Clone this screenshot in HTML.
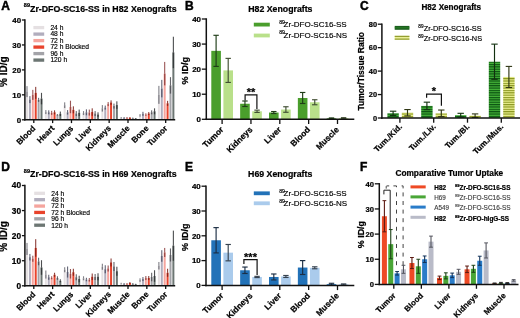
<!DOCTYPE html>
<html><head><meta charset="utf-8"><title>Figure</title>
<style>
html,body{margin:0;padding:0;background:#fff;}
body{width:520px;height:318px;overflow:hidden;}
svg{display:block;font-family:"Liberation Sans", Arial, sans-serif;filter:blur(0.35px);}
</style></head><body>
<svg width="520" height="318" viewBox="0 0 520 318">
<rect width="520" height="318" fill="#fff"/>
<text x="1.3" y="9.8" font-size="12" font-weight="bold" text-anchor="start" fill="#000" stroke="#000" stroke-width="0.45">A</text>
<text x="23.8" y="11.6" font-size="8.78" font-weight="bold" text-anchor="start" fill="#000" stroke="#000" stroke-width="0.22"><tspan font-size="5.62" dy="-4.13">89</tspan><tspan dy="4.13">Zr</tspan>-DFO-SC16-SS in H82 Xenografts</text>
<rect x="26.00" y="91.61" width="2.00" height="28.19" fill="#e5e0e2"/>
<rect x="26.45" y="86.12" width="1.10" height="5.49" fill="#6a6a72" opacity="0.85"/>
<rect x="26.35" y="91.61" width="1.30" height="5.49" fill="#6a6a72" opacity="0.85"/>
<rect x="28.90" y="99.59" width="2.00" height="20.21" fill="#b1adbd"/>
<rect x="29.35" y="96.10" width="1.10" height="3.49" fill="#4a4c60" opacity="0.85"/>
<rect x="29.25" y="99.59" width="1.30" height="3.49" fill="#4a4c60" opacity="0.85"/>
<rect x="31.80" y="94.85" width="2.00" height="24.95" fill="#f5a59e"/>
<rect x="32.25" y="89.86" width="1.10" height="4.99" fill="#8a3a38" opacity="0.85"/>
<rect x="32.15" y="94.85" width="1.30" height="4.99" fill="#8a3a38" opacity="0.85"/>
<rect x="34.70" y="92.85" width="2.00" height="26.95" fill="#e8432c"/>
<rect x="35.15" y="86.87" width="1.10" height="5.99" fill="#7a1f18" opacity="0.85"/>
<rect x="35.05" y="92.85" width="1.30" height="5.99" fill="#7a1f18" opacity="0.85"/>
<rect x="37.60" y="99.84" width="2.00" height="19.96" fill="#a3a3a8"/>
<rect x="38.05" y="97.84" width="1.10" height="2.00" fill="#4c4c52" opacity="0.85"/>
<rect x="37.95" y="99.84" width="1.30" height="2.00" fill="#4c4c52" opacity="0.85"/>
<rect x="40.50" y="98.59" width="2.00" height="21.21" fill="#6c7673"/>
<rect x="40.95" y="92.85" width="1.10" height="5.74" fill="#2e3032" opacity="0.85"/>
<rect x="40.85" y="98.59" width="1.30" height="5.74" fill="#2e3032" opacity="0.85"/>
<rect x="44.84" y="112.07" width="2.00" height="7.73" fill="#e5e0e2"/>
<rect x="45.29" y="110.07" width="1.10" height="2.00" fill="#6a6a72" opacity="0.85"/>
<rect x="45.19" y="112.07" width="1.30" height="2.00" fill="#6a6a72" opacity="0.85"/>
<rect x="47.74" y="112.31" width="2.00" height="7.48" fill="#b1adbd"/>
<rect x="48.19" y="110.32" width="1.10" height="2.00" fill="#4a4c60" opacity="0.85"/>
<rect x="48.09" y="112.31" width="1.30" height="2.00" fill="#4a4c60" opacity="0.85"/>
<rect x="50.64" y="112.81" width="2.00" height="6.99" fill="#f5a59e"/>
<rect x="51.09" y="110.82" width="1.10" height="2.00" fill="#8a3a38" opacity="0.85"/>
<rect x="50.99" y="112.81" width="1.30" height="2.00" fill="#8a3a38" opacity="0.85"/>
<rect x="53.54" y="112.31" width="2.00" height="7.48" fill="#e8432c"/>
<rect x="53.99" y="110.32" width="1.10" height="2.00" fill="#7a1f18" opacity="0.85"/>
<rect x="53.89" y="112.31" width="1.30" height="2.00" fill="#7a1f18" opacity="0.85"/>
<rect x="56.44" y="114.81" width="2.00" height="4.99" fill="#a3a3a8"/>
<rect x="56.89" y="114.06" width="1.10" height="0.75" fill="#4c4c52" opacity="0.85"/>
<rect x="56.79" y="114.81" width="1.30" height="0.75" fill="#4c4c52" opacity="0.85"/>
<rect x="59.34" y="113.81" width="2.00" height="5.99" fill="#6c7673"/>
<rect x="59.79" y="111.57" width="1.10" height="2.25" fill="#2e3032" opacity="0.85"/>
<rect x="59.69" y="113.81" width="1.30" height="2.25" fill="#2e3032" opacity="0.85"/>
<rect x="63.68" y="105.20" width="2.00" height="14.60" fill="#e5e0e2"/>
<rect x="64.13" y="102.33" width="1.10" height="2.87" fill="#6a6a72" opacity="0.85"/>
<rect x="64.03" y="105.20" width="1.30" height="2.87" fill="#6a6a72" opacity="0.85"/>
<rect x="66.58" y="112.31" width="2.00" height="7.48" fill="#b1adbd"/>
<rect x="67.03" y="110.07" width="1.10" height="2.25" fill="#4a4c60" opacity="0.85"/>
<rect x="66.93" y="112.31" width="1.30" height="2.25" fill="#4a4c60" opacity="0.85"/>
<rect x="69.48" y="106.95" width="2.00" height="12.85" fill="#f5a59e"/>
<rect x="69.93" y="100.71" width="1.10" height="6.24" fill="#8a3a38" opacity="0.85"/>
<rect x="69.83" y="106.95" width="1.30" height="6.24" fill="#8a3a38" opacity="0.85"/>
<rect x="72.38" y="109.82" width="2.00" height="9.98" fill="#e8432c"/>
<rect x="72.83" y="106.33" width="1.10" height="3.49" fill="#7a1f18" opacity="0.85"/>
<rect x="72.73" y="109.82" width="1.30" height="3.49" fill="#7a1f18" opacity="0.85"/>
<rect x="75.28" y="113.56" width="2.00" height="6.24" fill="#a3a3a8"/>
<rect x="75.73" y="111.07" width="1.10" height="2.50" fill="#4c4c52" opacity="0.85"/>
<rect x="75.63" y="113.56" width="1.30" height="2.49" fill="#4c4c52" opacity="0.85"/>
<rect x="78.18" y="112.81" width="2.00" height="6.99" fill="#6c7673"/>
<rect x="78.63" y="109.57" width="1.10" height="3.24" fill="#2e3032" opacity="0.85"/>
<rect x="78.53" y="112.81" width="1.30" height="3.24" fill="#2e3032" opacity="0.85"/>
<rect x="82.52" y="113.06" width="2.00" height="6.74" fill="#e5e0e2"/>
<rect x="82.97" y="111.07" width="1.10" height="2.00" fill="#6a6a72" opacity="0.85"/>
<rect x="82.87" y="113.06" width="1.30" height="2.00" fill="#6a6a72" opacity="0.85"/>
<rect x="85.42" y="112.31" width="2.00" height="7.48" fill="#b1adbd"/>
<rect x="85.87" y="109.32" width="1.10" height="2.99" fill="#4a4c60" opacity="0.85"/>
<rect x="85.77" y="112.31" width="1.30" height="2.99" fill="#4a4c60" opacity="0.85"/>
<rect x="88.32" y="112.56" width="2.00" height="7.24" fill="#f5a59e"/>
<rect x="88.77" y="109.57" width="1.10" height="2.99" fill="#8a3a38" opacity="0.85"/>
<rect x="88.67" y="112.56" width="1.30" height="2.99" fill="#8a3a38" opacity="0.85"/>
<rect x="91.22" y="112.07" width="2.00" height="7.73" fill="#e8432c"/>
<rect x="91.67" y="108.32" width="1.10" height="3.74" fill="#7a1f18" opacity="0.85"/>
<rect x="91.57" y="112.07" width="1.30" height="3.74" fill="#7a1f18" opacity="0.85"/>
<rect x="94.12" y="113.56" width="2.00" height="6.24" fill="#a3a3a8"/>
<rect x="94.57" y="111.07" width="1.10" height="2.50" fill="#4c4c52" opacity="0.85"/>
<rect x="94.47" y="113.56" width="1.30" height="2.49" fill="#4c4c52" opacity="0.85"/>
<rect x="97.02" y="114.56" width="2.00" height="5.24" fill="#6c7673"/>
<rect x="97.47" y="112.31" width="1.10" height="2.25" fill="#2e3032" opacity="0.85"/>
<rect x="97.37" y="114.56" width="1.30" height="2.25" fill="#2e3032" opacity="0.85"/>
<rect x="101.36" y="108.32" width="2.00" height="11.48" fill="#e5e0e2"/>
<rect x="101.81" y="105.08" width="1.10" height="3.24" fill="#6a6a72" opacity="0.85"/>
<rect x="101.71" y="108.32" width="1.30" height="3.24" fill="#6a6a72" opacity="0.85"/>
<rect x="104.26" y="107.57" width="2.00" height="12.23" fill="#b1adbd"/>
<rect x="104.71" y="105.58" width="1.10" height="2.00" fill="#4a4c60" opacity="0.85"/>
<rect x="104.61" y="107.57" width="1.30" height="2.00" fill="#4a4c60" opacity="0.85"/>
<rect x="107.16" y="104.08" width="2.00" height="15.72" fill="#f5a59e"/>
<rect x="107.61" y="102.09" width="1.10" height="2.00" fill="#8a3a38" opacity="0.85"/>
<rect x="107.51" y="104.08" width="1.30" height="2.00" fill="#8a3a38" opacity="0.85"/>
<rect x="110.06" y="102.58" width="2.00" height="17.22" fill="#e8432c"/>
<rect x="110.51" y="100.34" width="1.10" height="2.25" fill="#7a1f18" opacity="0.85"/>
<rect x="110.41" y="102.58" width="1.30" height="2.25" fill="#7a1f18" opacity="0.85"/>
<rect x="112.96" y="106.08" width="2.00" height="13.72" fill="#a3a3a8"/>
<rect x="113.41" y="103.58" width="1.10" height="2.50" fill="#4c4c52" opacity="0.85"/>
<rect x="113.31" y="106.08" width="1.30" height="2.49" fill="#4c4c52" opacity="0.85"/>
<rect x="115.86" y="105.08" width="2.00" height="14.72" fill="#6c7673"/>
<rect x="116.31" y="101.34" width="1.10" height="3.74" fill="#2e3032" opacity="0.85"/>
<rect x="116.21" y="105.08" width="1.30" height="3.74" fill="#2e3032" opacity="0.85"/>
<rect x="120.20" y="117.80" width="2.00" height="2.00" fill="#e5e0e2"/>
<rect x="120.65" y="117.06" width="1.10" height="0.75" fill="#6a6a72" opacity="0.85"/>
<rect x="120.55" y="117.80" width="1.30" height="0.75" fill="#6a6a72" opacity="0.85"/>
<rect x="123.10" y="117.80" width="2.00" height="2.00" fill="#b1adbd"/>
<rect x="123.55" y="117.06" width="1.10" height="0.75" fill="#4a4c60" opacity="0.85"/>
<rect x="123.45" y="117.80" width="1.30" height="0.75" fill="#4a4c60" opacity="0.85"/>
<rect x="126.00" y="117.80" width="2.00" height="2.00" fill="#f5a59e"/>
<rect x="126.45" y="117.06" width="1.10" height="0.75" fill="#8a3a38" opacity="0.85"/>
<rect x="126.35" y="117.80" width="1.30" height="0.75" fill="#8a3a38" opacity="0.85"/>
<rect x="128.90" y="117.80" width="2.00" height="2.00" fill="#e8432c"/>
<rect x="129.35" y="117.06" width="1.10" height="0.75" fill="#7a1f18" opacity="0.85"/>
<rect x="129.25" y="117.80" width="1.30" height="0.75" fill="#7a1f18" opacity="0.85"/>
<rect x="131.80" y="118.05" width="2.00" height="1.75" fill="#a3a3a8"/>
<rect x="132.25" y="117.55" width="1.10" height="0.50" fill="#4c4c52" opacity="0.85"/>
<rect x="132.15" y="118.05" width="1.30" height="0.50" fill="#4c4c52" opacity="0.85"/>
<rect x="134.70" y="118.55" width="2.00" height="1.25" fill="#6c7673"/>
<rect x="135.15" y="118.05" width="1.10" height="0.50" fill="#2e3032" opacity="0.85"/>
<rect x="135.05" y="118.55" width="1.30" height="0.50" fill="#2e3032" opacity="0.85"/>
<rect x="139.04" y="115.31" width="2.00" height="4.49" fill="#e5e0e2"/>
<rect x="139.49" y="114.06" width="1.10" height="1.25" fill="#6a6a72" opacity="0.85"/>
<rect x="139.39" y="115.31" width="1.30" height="1.25" fill="#6a6a72" opacity="0.85"/>
<rect x="141.94" y="113.81" width="2.00" height="5.99" fill="#b1adbd"/>
<rect x="142.39" y="111.82" width="1.10" height="2.00" fill="#4a4c60" opacity="0.85"/>
<rect x="142.29" y="113.81" width="1.30" height="2.00" fill="#4a4c60" opacity="0.85"/>
<rect x="144.84" y="114.56" width="2.00" height="5.24" fill="#f5a59e"/>
<rect x="145.29" y="113.31" width="1.10" height="1.25" fill="#8a3a38" opacity="0.85"/>
<rect x="145.19" y="114.56" width="1.30" height="1.25" fill="#8a3a38" opacity="0.85"/>
<rect x="147.74" y="113.56" width="2.00" height="6.24" fill="#e8432c"/>
<rect x="148.19" y="112.07" width="1.10" height="1.50" fill="#7a1f18" opacity="0.85"/>
<rect x="148.09" y="113.56" width="1.30" height="1.50" fill="#7a1f18" opacity="0.85"/>
<rect x="150.64" y="112.31" width="2.00" height="7.48" fill="#a3a3a8"/>
<rect x="151.09" y="110.32" width="1.10" height="2.00" fill="#4c4c52" opacity="0.85"/>
<rect x="150.99" y="112.31" width="1.30" height="2.00" fill="#4c4c52" opacity="0.85"/>
<rect x="153.54" y="111.32" width="2.00" height="8.48" fill="#6c7673"/>
<rect x="153.99" y="108.32" width="1.10" height="2.99" fill="#2e3032" opacity="0.85"/>
<rect x="153.89" y="111.32" width="1.30" height="2.99" fill="#2e3032" opacity="0.85"/>
<rect x="157.88" y="94.85" width="2.00" height="24.95" fill="#e5e0e2"/>
<rect x="158.33" y="85.87" width="1.10" height="8.98" fill="#6a6a72" opacity="0.85"/>
<rect x="158.23" y="94.85" width="1.30" height="8.98" fill="#6a6a72" opacity="0.85"/>
<rect x="160.78" y="88.61" width="2.00" height="31.19" fill="#b1adbd"/>
<rect x="161.23" y="79.88" width="1.10" height="8.73" fill="#4a4c60" opacity="0.85"/>
<rect x="161.13" y="88.61" width="1.30" height="8.73" fill="#4a4c60" opacity="0.85"/>
<rect x="163.68" y="73.64" width="2.00" height="46.16" fill="#f5a59e"/>
<rect x="164.13" y="61.92" width="1.10" height="11.73" fill="#8a3a38" opacity="0.85"/>
<rect x="164.03" y="73.64" width="1.30" height="11.73" fill="#8a3a38" opacity="0.85"/>
<rect x="166.58" y="103.33" width="2.00" height="16.47" fill="#e8432c"/>
<rect x="167.03" y="100.84" width="1.10" height="2.50" fill="#7a1f18" opacity="0.85"/>
<rect x="166.93" y="103.33" width="1.30" height="2.50" fill="#7a1f18" opacity="0.85"/>
<rect x="169.48" y="85.37" width="2.00" height="34.43" fill="#a3a3a8"/>
<rect x="169.93" y="77.14" width="1.10" height="8.23" fill="#4c4c52" opacity="0.85"/>
<rect x="169.83" y="85.37" width="1.30" height="8.23" fill="#4c4c52" opacity="0.85"/>
<rect x="172.38" y="52.43" width="2.00" height="67.37" fill="#6c7673"/>
<rect x="172.83" y="36.72" width="1.10" height="15.72" fill="#2e3032" opacity="0.85"/>
<rect x="172.73" y="52.43" width="1.30" height="15.72" fill="#2e3032" opacity="0.85"/>
<line x1="24.90" y1="19.30" x2="24.90" y2="120.55" stroke="#111" stroke-width="1.5"/>
<line x1="21.90" y1="119.80" x2="24.90" y2="119.80" stroke="#111" stroke-width="1.3"/>
<text x="21.1" y="122.64" font-size="7.9" font-weight="bold" text-anchor="end" fill="#000" stroke="#000" stroke-width="0.22">0</text>
<line x1="21.90" y1="94.85" x2="24.90" y2="94.85" stroke="#111" stroke-width="1.3"/>
<text x="21.1" y="97.69" font-size="7.9" font-weight="bold" text-anchor="end" fill="#000" stroke="#000" stroke-width="0.22">10</text>
<line x1="21.90" y1="69.90" x2="24.90" y2="69.90" stroke="#111" stroke-width="1.3"/>
<text x="21.1" y="72.74" font-size="7.9" font-weight="bold" text-anchor="end" fill="#000" stroke="#000" stroke-width="0.22">20</text>
<line x1="21.90" y1="44.95" x2="24.90" y2="44.95" stroke="#111" stroke-width="1.3"/>
<text x="21.1" y="47.79" font-size="7.9" font-weight="bold" text-anchor="end" fill="#000" stroke="#000" stroke-width="0.22">30</text>
<line x1="21.90" y1="20.00" x2="24.90" y2="20.00" stroke="#111" stroke-width="1.3"/>
<text x="21.1" y="22.84" font-size="7.9" font-weight="bold" text-anchor="end" fill="#000" stroke="#000" stroke-width="0.22">40</text>
<text x="7.2" y="71.7" font-size="10.0" font-weight="bold" text-anchor="middle" fill="#000" stroke="#000" stroke-width="0.22" transform="rotate(-90 7.2 71.7)">% ID/g</text>
<line x1="24.15" y1="119.80" x2="175.20" y2="119.80" stroke="#111" stroke-width="1.5"/>
<line x1="33.80" y1="119.80" x2="33.80" y2="123.10" stroke="#111" stroke-width="1.3"/>
<text x="36.1" y="128.9" font-size="8.2" font-weight="bold" text-anchor="end" fill="#000" stroke="#000" stroke-width="0.22" transform="rotate(-45 36.1 128.9)">Blood</text>
<line x1="52.64" y1="119.80" x2="52.64" y2="123.10" stroke="#111" stroke-width="1.3"/>
<text x="54.94" y="128.9" font-size="8.2" font-weight="bold" text-anchor="end" fill="#000" stroke="#000" stroke-width="0.22" transform="rotate(-45 54.94 128.9)">Heart</text>
<line x1="71.48" y1="119.80" x2="71.48" y2="123.10" stroke="#111" stroke-width="1.3"/>
<text x="73.78" y="128.9" font-size="8.2" font-weight="bold" text-anchor="end" fill="#000" stroke="#000" stroke-width="0.22" transform="rotate(-45 73.78 128.9)">Lungs</text>
<line x1="90.32" y1="119.80" x2="90.32" y2="123.10" stroke="#111" stroke-width="1.3"/>
<text x="92.62" y="128.9" font-size="8.2" font-weight="bold" text-anchor="end" fill="#000" stroke="#000" stroke-width="0.22" transform="rotate(-45 92.62 128.9)">Liver</text>
<line x1="109.16" y1="119.80" x2="109.16" y2="123.10" stroke="#111" stroke-width="1.3"/>
<text x="111.46" y="128.9" font-size="8.2" font-weight="bold" text-anchor="end" fill="#000" stroke="#000" stroke-width="0.22" transform="rotate(-45 111.46 128.9)">Kidneys</text>
<line x1="128.00" y1="119.80" x2="128.00" y2="123.10" stroke="#111" stroke-width="1.3"/>
<text x="130.3" y="128.9" font-size="8.2" font-weight="bold" text-anchor="end" fill="#000" stroke="#000" stroke-width="0.22" transform="rotate(-45 130.3 128.9)">Muscle</text>
<line x1="146.84" y1="119.80" x2="146.84" y2="123.10" stroke="#111" stroke-width="1.3"/>
<text x="149.14" y="128.9" font-size="8.2" font-weight="bold" text-anchor="end" fill="#000" stroke="#000" stroke-width="0.22" transform="rotate(-45 149.14 128.9)">Bone</text>
<line x1="165.68" y1="119.80" x2="165.68" y2="123.10" stroke="#111" stroke-width="1.3"/>
<text x="167.98" y="128.9" font-size="8.2" font-weight="bold" text-anchor="end" fill="#000" stroke="#000" stroke-width="0.22" transform="rotate(-45 167.98 128.9)">Tumor</text>
<rect x="33.40" y="25.95" width="10.80" height="3.30" fill="#e5e0e2"/>
<text x="50.4" y="29.950000000000003" font-size="6.7" font-weight="normal" text-anchor="start" fill="#000" stroke="#000" stroke-width="0.16">24 h</text>
<rect x="33.40" y="32.45" width="10.80" height="3.30" fill="#b1adbd"/>
<text x="50.4" y="36.45" font-size="6.7" font-weight="normal" text-anchor="start" fill="#000" stroke="#000" stroke-width="0.16">48 h</text>
<rect x="33.40" y="38.95" width="10.80" height="3.30" fill="#f5a59e"/>
<text x="50.4" y="42.95" font-size="6.7" font-weight="normal" text-anchor="start" fill="#000" stroke="#000" stroke-width="0.16">72 h</text>
<rect x="33.40" y="45.45" width="10.80" height="3.30" fill="#e8432c"/>
<text x="50.4" y="49.45" font-size="6.7" font-weight="normal" text-anchor="start" fill="#000" stroke="#000" stroke-width="0.16">72 h Blocked</text>
<rect x="33.40" y="51.95" width="10.80" height="3.30" fill="#a3a3a8"/>
<text x="50.4" y="55.95" font-size="6.7" font-weight="normal" text-anchor="start" fill="#000" stroke="#000" stroke-width="0.16">96 h</text>
<rect x="33.40" y="58.45" width="10.80" height="3.30" fill="#6c7673"/>
<text x="50.4" y="62.45" font-size="6.7" font-weight="normal" text-anchor="start" fill="#000" stroke="#000" stroke-width="0.16">120 h</text>
<text x="1.3" y="170.9" font-size="12" font-weight="bold" text-anchor="start" fill="#000" stroke="#000" stroke-width="0.45">D</text>
<text x="23.8" y="176.9" font-size="8.78" font-weight="bold" text-anchor="start" fill="#000" stroke="#000" stroke-width="0.22"><tspan font-size="5.62" dy="-4.13">89</tspan><tspan dy="4.13">Zr</tspan>-DFO-SC16-SS in H69 Xenografts</text>
<rect x="26.00" y="248.94" width="2.00" height="36.86" fill="#e5e0e2"/>
<rect x="26.45" y="242.92" width="1.10" height="6.02" fill="#6a6a72" opacity="0.85"/>
<rect x="26.35" y="248.94" width="1.30" height="6.02" fill="#6a6a72" opacity="0.85"/>
<rect x="28.90" y="257.21" width="2.00" height="28.59" fill="#b1adbd"/>
<rect x="29.35" y="253.95" width="1.10" height="3.26" fill="#4a4c60" opacity="0.85"/>
<rect x="29.25" y="257.21" width="1.30" height="3.26" fill="#4a4c60" opacity="0.85"/>
<rect x="31.80" y="258.72" width="2.00" height="27.08" fill="#f5a59e"/>
<rect x="32.25" y="255.71" width="1.10" height="3.01" fill="#8a3a38" opacity="0.85"/>
<rect x="32.15" y="258.72" width="1.30" height="3.01" fill="#8a3a38" opacity="0.85"/>
<rect x="34.70" y="247.94" width="2.00" height="37.86" fill="#e8432c"/>
<rect x="35.15" y="239.16" width="1.10" height="8.78" fill="#7a1f18" opacity="0.85"/>
<rect x="35.05" y="247.94" width="1.30" height="8.78" fill="#7a1f18" opacity="0.85"/>
<rect x="37.60" y="261.48" width="2.00" height="24.32" fill="#a3a3a8"/>
<rect x="38.05" y="257.72" width="1.10" height="3.76" fill="#4c4c52" opacity="0.85"/>
<rect x="37.95" y="261.48" width="1.30" height="3.76" fill="#4c4c52" opacity="0.85"/>
<rect x="40.50" y="267.50" width="2.00" height="18.30" fill="#6c7673"/>
<rect x="40.95" y="260.22" width="1.10" height="7.27" fill="#2e3032" opacity="0.85"/>
<rect x="40.85" y="267.50" width="1.30" height="7.27" fill="#2e3032" opacity="0.85"/>
<rect x="44.84" y="274.52" width="2.00" height="11.28" fill="#e5e0e2"/>
<rect x="45.29" y="270.50" width="1.10" height="4.01" fill="#6a6a72" opacity="0.85"/>
<rect x="45.19" y="274.52" width="1.30" height="4.01" fill="#6a6a72" opacity="0.85"/>
<rect x="47.74" y="277.27" width="2.00" height="8.53" fill="#b1adbd"/>
<rect x="48.19" y="274.77" width="1.10" height="2.51" fill="#4a4c60" opacity="0.85"/>
<rect x="48.09" y="277.27" width="1.30" height="2.51" fill="#4a4c60" opacity="0.85"/>
<rect x="50.64" y="277.78" width="2.00" height="8.02" fill="#f5a59e"/>
<rect x="51.09" y="276.27" width="1.10" height="1.50" fill="#8a3a38" opacity="0.85"/>
<rect x="50.99" y="277.78" width="1.30" height="1.50" fill="#8a3a38" opacity="0.85"/>
<rect x="53.54" y="274.77" width="2.00" height="11.03" fill="#e8432c"/>
<rect x="53.99" y="272.76" width="1.10" height="2.01" fill="#7a1f18" opacity="0.85"/>
<rect x="53.89" y="274.77" width="1.30" height="2.01" fill="#7a1f18" opacity="0.85"/>
<rect x="56.44" y="278.03" width="2.00" height="7.77" fill="#a3a3a8"/>
<rect x="56.89" y="276.27" width="1.10" height="1.76" fill="#4c4c52" opacity="0.85"/>
<rect x="56.79" y="278.03" width="1.30" height="1.76" fill="#4c4c52" opacity="0.85"/>
<rect x="59.34" y="280.79" width="2.00" height="5.01" fill="#6c7673"/>
<rect x="59.79" y="279.28" width="1.10" height="1.50" fill="#2e3032" opacity="0.85"/>
<rect x="59.69" y="280.79" width="1.30" height="1.50" fill="#2e3032" opacity="0.85"/>
<rect x="63.68" y="269.75" width="2.00" height="16.05" fill="#e5e0e2"/>
<rect x="64.13" y="267.24" width="1.10" height="2.51" fill="#6a6a72" opacity="0.85"/>
<rect x="64.03" y="269.75" width="1.30" height="2.51" fill="#6a6a72" opacity="0.85"/>
<rect x="66.58" y="272.01" width="2.00" height="13.79" fill="#b1adbd"/>
<rect x="67.03" y="266.49" width="1.10" height="5.52" fill="#4a4c60" opacity="0.85"/>
<rect x="66.93" y="272.01" width="1.30" height="5.52" fill="#4a4c60" opacity="0.85"/>
<rect x="69.48" y="273.76" width="2.00" height="12.04" fill="#f5a59e"/>
<rect x="69.93" y="269.00" width="1.10" height="4.76" fill="#8a3a38" opacity="0.85"/>
<rect x="69.83" y="273.76" width="1.30" height="4.76" fill="#8a3a38" opacity="0.85"/>
<rect x="72.38" y="272.26" width="2.00" height="13.54" fill="#e8432c"/>
<rect x="72.83" y="268.75" width="1.10" height="3.51" fill="#7a1f18" opacity="0.85"/>
<rect x="72.73" y="272.26" width="1.30" height="3.51" fill="#7a1f18" opacity="0.85"/>
<rect x="75.28" y="277.27" width="2.00" height="8.53" fill="#a3a3a8"/>
<rect x="75.73" y="274.27" width="1.10" height="3.01" fill="#4c4c52" opacity="0.85"/>
<rect x="75.63" y="277.27" width="1.30" height="3.01" fill="#4c4c52" opacity="0.85"/>
<rect x="78.18" y="279.03" width="2.00" height="6.77" fill="#6c7673"/>
<rect x="78.63" y="275.77" width="1.10" height="3.26" fill="#2e3032" opacity="0.85"/>
<rect x="78.53" y="279.03" width="1.30" height="3.26" fill="#2e3032" opacity="0.85"/>
<rect x="82.52" y="278.28" width="2.00" height="7.52" fill="#e5e0e2"/>
<rect x="82.97" y="276.27" width="1.10" height="2.01" fill="#6a6a72" opacity="0.85"/>
<rect x="82.87" y="278.28" width="1.30" height="2.01" fill="#6a6a72" opacity="0.85"/>
<rect x="85.42" y="279.53" width="2.00" height="6.27" fill="#b1adbd"/>
<rect x="85.87" y="277.78" width="1.10" height="1.76" fill="#4a4c60" opacity="0.85"/>
<rect x="85.77" y="279.53" width="1.30" height="1.76" fill="#4a4c60" opacity="0.85"/>
<rect x="88.32" y="279.78" width="2.00" height="6.02" fill="#f5a59e"/>
<rect x="88.77" y="278.03" width="1.10" height="1.76" fill="#8a3a38" opacity="0.85"/>
<rect x="88.67" y="279.78" width="1.30" height="1.76" fill="#8a3a38" opacity="0.85"/>
<rect x="91.22" y="276.77" width="2.00" height="9.03" fill="#e8432c"/>
<rect x="91.67" y="273.51" width="1.10" height="3.26" fill="#7a1f18" opacity="0.85"/>
<rect x="91.57" y="276.77" width="1.30" height="3.26" fill="#7a1f18" opacity="0.85"/>
<rect x="94.12" y="277.02" width="2.00" height="8.78" fill="#a3a3a8"/>
<rect x="94.57" y="274.01" width="1.10" height="3.01" fill="#4c4c52" opacity="0.85"/>
<rect x="94.47" y="277.02" width="1.30" height="3.01" fill="#4c4c52" opacity="0.85"/>
<rect x="97.02" y="276.77" width="2.00" height="9.03" fill="#6c7673"/>
<rect x="97.47" y="273.26" width="1.10" height="3.51" fill="#2e3032" opacity="0.85"/>
<rect x="97.37" y="276.77" width="1.30" height="3.51" fill="#2e3032" opacity="0.85"/>
<rect x="101.36" y="266.74" width="2.00" height="19.06" fill="#e5e0e2"/>
<rect x="101.81" y="263.73" width="1.10" height="3.01" fill="#6a6a72" opacity="0.85"/>
<rect x="101.71" y="266.74" width="1.30" height="3.01" fill="#6a6a72" opacity="0.85"/>
<rect x="104.26" y="269.25" width="2.00" height="16.55" fill="#b1adbd"/>
<rect x="104.71" y="265.24" width="1.10" height="4.01" fill="#4a4c60" opacity="0.85"/>
<rect x="104.61" y="269.25" width="1.30" height="4.01" fill="#4a4c60" opacity="0.85"/>
<rect x="107.16" y="268.50" width="2.00" height="17.30" fill="#f5a59e"/>
<rect x="107.61" y="265.49" width="1.10" height="3.01" fill="#8a3a38" opacity="0.85"/>
<rect x="107.51" y="268.50" width="1.30" height="3.01" fill="#8a3a38" opacity="0.85"/>
<rect x="110.06" y="262.48" width="2.00" height="23.32" fill="#e8432c"/>
<rect x="110.51" y="258.47" width="1.10" height="4.01" fill="#7a1f18" opacity="0.85"/>
<rect x="110.41" y="262.48" width="1.30" height="4.01" fill="#7a1f18" opacity="0.85"/>
<rect x="112.96" y="266.49" width="2.00" height="19.31" fill="#a3a3a8"/>
<rect x="113.41" y="261.98" width="1.10" height="4.51" fill="#4c4c52" opacity="0.85"/>
<rect x="113.31" y="266.49" width="1.30" height="4.51" fill="#4c4c52" opacity="0.85"/>
<rect x="115.86" y="271.26" width="2.00" height="14.54" fill="#6c7673"/>
<rect x="116.31" y="266.74" width="1.10" height="4.51" fill="#2e3032" opacity="0.85"/>
<rect x="116.21" y="271.26" width="1.30" height="4.51" fill="#2e3032" opacity="0.85"/>
<rect x="120.20" y="283.54" width="2.00" height="2.26" fill="#e5e0e2"/>
<rect x="120.65" y="282.79" width="1.10" height="0.75" fill="#6a6a72" opacity="0.85"/>
<rect x="120.55" y="283.54" width="1.30" height="0.75" fill="#6a6a72" opacity="0.85"/>
<rect x="123.10" y="283.79" width="2.00" height="2.01" fill="#b1adbd"/>
<rect x="123.55" y="283.04" width="1.10" height="0.75" fill="#4a4c60" opacity="0.85"/>
<rect x="123.45" y="283.79" width="1.30" height="0.75" fill="#4a4c60" opacity="0.85"/>
<rect x="126.00" y="283.79" width="2.00" height="2.01" fill="#f5a59e"/>
<rect x="126.45" y="283.04" width="1.10" height="0.75" fill="#8a3a38" opacity="0.85"/>
<rect x="126.35" y="283.79" width="1.30" height="0.75" fill="#8a3a38" opacity="0.85"/>
<rect x="128.90" y="283.04" width="2.00" height="2.76" fill="#e8432c"/>
<rect x="129.35" y="282.04" width="1.10" height="1.00" fill="#7a1f18" opacity="0.85"/>
<rect x="129.25" y="283.04" width="1.30" height="1.00" fill="#7a1f18" opacity="0.85"/>
<rect x="131.80" y="283.79" width="2.00" height="2.01" fill="#a3a3a8"/>
<rect x="132.25" y="283.04" width="1.10" height="0.75" fill="#4c4c52" opacity="0.85"/>
<rect x="132.15" y="283.79" width="1.30" height="0.75" fill="#4c4c52" opacity="0.85"/>
<rect x="134.70" y="284.30" width="2.00" height="1.50" fill="#6c7673"/>
<rect x="135.15" y="283.79" width="1.10" height="0.50" fill="#2e3032" opacity="0.85"/>
<rect x="135.05" y="284.30" width="1.30" height="0.50" fill="#2e3032" opacity="0.85"/>
<rect x="139.04" y="280.03" width="2.00" height="5.77" fill="#e5e0e2"/>
<rect x="139.49" y="278.28" width="1.10" height="1.76" fill="#6a6a72" opacity="0.85"/>
<rect x="139.39" y="280.03" width="1.30" height="1.76" fill="#6a6a72" opacity="0.85"/>
<rect x="141.94" y="279.03" width="2.00" height="6.77" fill="#b1adbd"/>
<rect x="142.39" y="277.02" width="1.10" height="2.01" fill="#4a4c60" opacity="0.85"/>
<rect x="142.29" y="279.03" width="1.30" height="2.01" fill="#4a4c60" opacity="0.85"/>
<rect x="144.84" y="278.03" width="2.00" height="7.77" fill="#f5a59e"/>
<rect x="145.29" y="276.02" width="1.10" height="2.01" fill="#8a3a38" opacity="0.85"/>
<rect x="145.19" y="278.03" width="1.30" height="2.01" fill="#8a3a38" opacity="0.85"/>
<rect x="147.74" y="278.03" width="2.00" height="7.77" fill="#e8432c"/>
<rect x="148.19" y="276.02" width="1.10" height="2.01" fill="#7a1f18" opacity="0.85"/>
<rect x="148.09" y="278.03" width="1.30" height="2.01" fill="#7a1f18" opacity="0.85"/>
<rect x="150.64" y="277.02" width="2.00" height="8.78" fill="#a3a3a8"/>
<rect x="151.09" y="272.76" width="1.10" height="4.26" fill="#4c4c52" opacity="0.85"/>
<rect x="150.99" y="277.02" width="1.30" height="4.26" fill="#4c4c52" opacity="0.85"/>
<rect x="153.54" y="276.02" width="2.00" height="9.78" fill="#6c7673"/>
<rect x="153.99" y="270.25" width="1.10" height="5.77" fill="#2e3032" opacity="0.85"/>
<rect x="153.89" y="276.02" width="1.30" height="5.77" fill="#2e3032" opacity="0.85"/>
<rect x="157.88" y="265.74" width="2.00" height="20.06" fill="#e5e0e2"/>
<rect x="158.33" y="261.98" width="1.10" height="3.76" fill="#6a6a72" opacity="0.85"/>
<rect x="158.23" y="265.74" width="1.30" height="3.76" fill="#6a6a72" opacity="0.85"/>
<rect x="160.78" y="255.96" width="2.00" height="29.84" fill="#b1adbd"/>
<rect x="161.23" y="250.19" width="1.10" height="5.77" fill="#4a4c60" opacity="0.85"/>
<rect x="161.13" y="255.96" width="1.30" height="5.77" fill="#4a4c60" opacity="0.85"/>
<rect x="163.68" y="252.45" width="2.00" height="33.35" fill="#f5a59e"/>
<rect x="164.13" y="247.94" width="1.10" height="4.51" fill="#8a3a38" opacity="0.85"/>
<rect x="164.03" y="252.45" width="1.30" height="4.51" fill="#8a3a38" opacity="0.85"/>
<rect x="166.58" y="272.76" width="2.00" height="13.04" fill="#e8432c"/>
<rect x="167.03" y="268.75" width="1.10" height="4.01" fill="#7a1f18" opacity="0.85"/>
<rect x="166.93" y="272.76" width="1.30" height="4.01" fill="#7a1f18" opacity="0.85"/>
<rect x="169.48" y="254.96" width="2.00" height="30.84" fill="#a3a3a8"/>
<rect x="169.93" y="248.44" width="1.10" height="6.52" fill="#4c4c52" opacity="0.85"/>
<rect x="169.83" y="254.96" width="1.30" height="6.52" fill="#4c4c52" opacity="0.85"/>
<rect x="172.38" y="245.68" width="2.00" height="40.12" fill="#6c7673"/>
<rect x="172.83" y="230.63" width="1.10" height="15.05" fill="#2e3032" opacity="0.85"/>
<rect x="172.73" y="245.68" width="1.30" height="15.05" fill="#2e3032" opacity="0.85"/>
<line x1="24.90" y1="184.80" x2="24.90" y2="286.55" stroke="#111" stroke-width="1.5"/>
<line x1="21.90" y1="285.80" x2="24.90" y2="285.80" stroke="#111" stroke-width="1.3"/>
<text x="21.1" y="288.79" font-size="8.3" font-weight="bold" text-anchor="end" fill="#000" stroke="#000" stroke-width="0.22">0</text>
<line x1="21.90" y1="260.73" x2="24.90" y2="260.73" stroke="#111" stroke-width="1.3"/>
<text x="21.1" y="263.71" font-size="8.3" font-weight="bold" text-anchor="end" fill="#000" stroke="#000" stroke-width="0.22">10</text>
<line x1="21.90" y1="235.65" x2="24.90" y2="235.65" stroke="#111" stroke-width="1.3"/>
<text x="21.1" y="238.64" font-size="8.3" font-weight="bold" text-anchor="end" fill="#000" stroke="#000" stroke-width="0.22">20</text>
<line x1="21.90" y1="210.57" x2="24.90" y2="210.57" stroke="#111" stroke-width="1.3"/>
<text x="21.1" y="213.56" font-size="8.3" font-weight="bold" text-anchor="end" fill="#000" stroke="#000" stroke-width="0.22">30</text>
<line x1="21.90" y1="185.50" x2="24.90" y2="185.50" stroke="#111" stroke-width="1.3"/>
<text x="21.1" y="188.49" font-size="8.3" font-weight="bold" text-anchor="end" fill="#000" stroke="#000" stroke-width="0.22">40</text>
<text x="7.2" y="236.45000000000002" font-size="10.0" font-weight="bold" text-anchor="middle" fill="#000" stroke="#000" stroke-width="0.22" transform="rotate(-90 7.2 236.45000000000002)">% ID/g</text>
<line x1="24.15" y1="285.80" x2="175.20" y2="285.80" stroke="#111" stroke-width="1.5"/>
<line x1="33.80" y1="285.80" x2="33.80" y2="289.10" stroke="#111" stroke-width="1.3"/>
<text x="36.1" y="294.9" font-size="8.2" font-weight="bold" text-anchor="end" fill="#000" stroke="#000" stroke-width="0.22" transform="rotate(-45 36.1 294.9)">Blood</text>
<line x1="52.64" y1="285.80" x2="52.64" y2="289.10" stroke="#111" stroke-width="1.3"/>
<text x="54.94" y="294.9" font-size="8.2" font-weight="bold" text-anchor="end" fill="#000" stroke="#000" stroke-width="0.22" transform="rotate(-45 54.94 294.9)">Heart</text>
<line x1="71.48" y1="285.80" x2="71.48" y2="289.10" stroke="#111" stroke-width="1.3"/>
<text x="73.78" y="294.9" font-size="8.2" font-weight="bold" text-anchor="end" fill="#000" stroke="#000" stroke-width="0.22" transform="rotate(-45 73.78 294.9)">Lungs</text>
<line x1="90.32" y1="285.80" x2="90.32" y2="289.10" stroke="#111" stroke-width="1.3"/>
<text x="92.62" y="294.9" font-size="8.2" font-weight="bold" text-anchor="end" fill="#000" stroke="#000" stroke-width="0.22" transform="rotate(-45 92.62 294.9)">Liver</text>
<line x1="109.16" y1="285.80" x2="109.16" y2="289.10" stroke="#111" stroke-width="1.3"/>
<text x="111.46" y="294.9" font-size="8.2" font-weight="bold" text-anchor="end" fill="#000" stroke="#000" stroke-width="0.22" transform="rotate(-45 111.46 294.9)">Kidneys</text>
<line x1="128.00" y1="285.80" x2="128.00" y2="289.10" stroke="#111" stroke-width="1.3"/>
<text x="130.3" y="294.9" font-size="8.2" font-weight="bold" text-anchor="end" fill="#000" stroke="#000" stroke-width="0.22" transform="rotate(-45 130.3 294.9)">Muscle</text>
<line x1="146.84" y1="285.80" x2="146.84" y2="289.10" stroke="#111" stroke-width="1.3"/>
<text x="149.14" y="294.9" font-size="8.2" font-weight="bold" text-anchor="end" fill="#000" stroke="#000" stroke-width="0.22" transform="rotate(-45 149.14 294.9)">Bone</text>
<line x1="165.68" y1="285.80" x2="165.68" y2="289.10" stroke="#111" stroke-width="1.3"/>
<text x="167.98" y="294.9" font-size="8.2" font-weight="bold" text-anchor="end" fill="#000" stroke="#000" stroke-width="0.22" transform="rotate(-45 167.98 294.9)">Tumor</text>
<rect x="34.20" y="191.65" width="10.80" height="3.30" fill="#e5e0e2"/>
<text x="51.3" y="195.65" font-size="6.7" font-weight="normal" text-anchor="start" fill="#000" stroke="#000" stroke-width="0.16">24 h</text>
<rect x="34.20" y="198.03" width="10.80" height="3.30" fill="#b1adbd"/>
<text x="51.3" y="202.03" font-size="6.7" font-weight="normal" text-anchor="start" fill="#000" stroke="#000" stroke-width="0.16">48 h</text>
<rect x="34.20" y="204.41" width="10.80" height="3.30" fill="#f5a59e"/>
<text x="51.3" y="208.41" font-size="6.7" font-weight="normal" text-anchor="start" fill="#000" stroke="#000" stroke-width="0.16">72 h</text>
<rect x="34.20" y="210.79" width="10.80" height="3.30" fill="#e8432c"/>
<text x="51.3" y="214.79" font-size="6.7" font-weight="normal" text-anchor="start" fill="#000" stroke="#000" stroke-width="0.16">72 h Blocked</text>
<rect x="34.20" y="217.17" width="10.80" height="3.30" fill="#a3a3a8"/>
<text x="51.3" y="221.17000000000002" font-size="6.7" font-weight="normal" text-anchor="start" fill="#000" stroke="#000" stroke-width="0.16">96 h</text>
<rect x="34.20" y="223.55" width="10.80" height="3.30" fill="#6c7673"/>
<text x="51.3" y="227.55" font-size="6.7" font-weight="normal" text-anchor="start" fill="#000" stroke="#000" stroke-width="0.16">120 h</text>
<text x="185" y="9.6" font-size="12" font-weight="bold" text-anchor="start" fill="#000" stroke="#000" stroke-width="0.45">B</text>
<text x="280.4" y="11.7" font-size="8.75" font-weight="bold" text-anchor="middle" fill="#000" stroke="#000" stroke-width="0.22">H82 Xenografts</text>
<rect x="211.30" y="50.85" width="9.60" height="68.45" fill="#4a9e2c"/>
<line x1="216.10" y1="35.30" x2="216.10" y2="66.39" stroke="#1f3d17" stroke-width="1.15"/>
<line x1="213.40" y1="35.30" x2="218.80" y2="35.30" stroke="#1f3d17" stroke-width="1.15"/>
<line x1="213.40" y1="66.39" x2="218.80" y2="66.39" stroke="#1f3d17" stroke-width="1.15"/>
<rect x="223.40" y="70.40" width="9.60" height="48.90" fill="#b9e08a"/>
<line x1="228.20" y1="58.37" x2="228.20" y2="82.44" stroke="#414f33" stroke-width="1.15"/>
<line x1="225.50" y1="58.37" x2="230.90" y2="58.37" stroke="#414f33" stroke-width="1.15"/>
<line x1="225.50" y1="82.44" x2="230.90" y2="82.44" stroke="#414f33" stroke-width="1.15"/>
<rect x="240.15" y="103.75" width="9.60" height="15.55" fill="#4a9e2c"/>
<line x1="244.95" y1="101.00" x2="244.95" y2="106.51" stroke="#1f3d17" stroke-width="1.15"/>
<line x1="242.25" y1="101.00" x2="247.65" y2="101.00" stroke="#1f3d17" stroke-width="1.15"/>
<line x1="242.25" y1="106.51" x2="247.65" y2="106.51" stroke="#1f3d17" stroke-width="1.15"/>
<rect x="252.25" y="111.28" width="9.60" height="8.02" fill="#b9e08a"/>
<line x1="257.05" y1="110.15" x2="257.05" y2="112.40" stroke="#414f33" stroke-width="1.15"/>
<line x1="254.35" y1="110.15" x2="259.75" y2="110.15" stroke="#414f33" stroke-width="1.15"/>
<line x1="254.35" y1="112.40" x2="259.75" y2="112.40" stroke="#414f33" stroke-width="1.15"/>
<rect x="269.00" y="112.53" width="9.60" height="6.77" fill="#4a9e2c"/>
<line x1="273.80" y1="111.53" x2="273.80" y2="113.53" stroke="#1f3d17" stroke-width="1.15"/>
<line x1="271.10" y1="111.53" x2="276.50" y2="111.53" stroke="#1f3d17" stroke-width="1.15"/>
<line x1="271.10" y1="113.53" x2="276.50" y2="113.53" stroke="#1f3d17" stroke-width="1.15"/>
<rect x="281.10" y="109.52" width="9.60" height="9.78" fill="#b9e08a"/>
<line x1="285.90" y1="106.76" x2="285.90" y2="112.28" stroke="#414f33" stroke-width="1.15"/>
<line x1="283.20" y1="106.76" x2="288.60" y2="106.76" stroke="#414f33" stroke-width="1.15"/>
<line x1="283.20" y1="112.28" x2="288.60" y2="112.28" stroke="#414f33" stroke-width="1.15"/>
<rect x="297.85" y="97.99" width="9.60" height="21.31" fill="#4a9e2c"/>
<line x1="302.65" y1="92.47" x2="302.65" y2="103.50" stroke="#1f3d17" stroke-width="1.15"/>
<line x1="299.95" y1="92.47" x2="305.35" y2="92.47" stroke="#1f3d17" stroke-width="1.15"/>
<line x1="299.95" y1="103.50" x2="305.35" y2="103.50" stroke="#1f3d17" stroke-width="1.15"/>
<rect x="309.95" y="102.25" width="9.60" height="17.05" fill="#b9e08a"/>
<line x1="314.75" y1="99.74" x2="314.75" y2="104.76" stroke="#414f33" stroke-width="1.15"/>
<line x1="312.05" y1="99.74" x2="317.45" y2="99.74" stroke="#414f33" stroke-width="1.15"/>
<line x1="312.05" y1="104.76" x2="317.45" y2="104.76" stroke="#414f33" stroke-width="1.15"/>
<rect x="326.70" y="118.30" width="9.60" height="1.00" fill="#4a9e2c"/>
<line x1="331.50" y1="117.92" x2="331.50" y2="118.67" stroke="#1f3d17" stroke-width="1.15"/>
<line x1="328.80" y1="117.92" x2="334.20" y2="117.92" stroke="#1f3d17" stroke-width="1.15"/>
<line x1="328.80" y1="118.67" x2="334.20" y2="118.67" stroke="#1f3d17" stroke-width="1.15"/>
<rect x="338.80" y="118.17" width="9.60" height="1.13" fill="#b9e08a"/>
<line x1="343.60" y1="117.67" x2="343.60" y2="118.67" stroke="#414f33" stroke-width="1.15"/>
<line x1="340.90" y1="117.67" x2="346.30" y2="117.67" stroke="#414f33" stroke-width="1.15"/>
<line x1="340.90" y1="118.67" x2="346.30" y2="118.67" stroke="#414f33" stroke-width="1.15"/>
<line x1="206.30" y1="18.30" x2="206.30" y2="120.05" stroke="#111" stroke-width="1.5"/>
<line x1="201.80" y1="119.30" x2="206.30" y2="119.30" stroke="#111" stroke-width="1.3"/>
<text x="201.0" y="122.14" font-size="7.9" font-weight="bold" text-anchor="end" fill="#000" stroke="#000" stroke-width="0.22">0</text>
<line x1="201.80" y1="94.22" x2="206.30" y2="94.22" stroke="#111" stroke-width="1.3"/>
<text x="201.0" y="97.07" font-size="7.9" font-weight="bold" text-anchor="end" fill="#000" stroke="#000" stroke-width="0.22">10</text>
<line x1="201.80" y1="69.15" x2="206.30" y2="69.15" stroke="#111" stroke-width="1.3"/>
<text x="201.0" y="71.99" font-size="7.9" font-weight="bold" text-anchor="end" fill="#000" stroke="#000" stroke-width="0.22">20</text>
<line x1="201.80" y1="44.08" x2="206.30" y2="44.08" stroke="#111" stroke-width="1.3"/>
<text x="201.0" y="46.92" font-size="7.9" font-weight="bold" text-anchor="end" fill="#000" stroke="#000" stroke-width="0.22">30</text>
<line x1="201.80" y1="19.00" x2="206.30" y2="19.00" stroke="#111" stroke-width="1.3"/>
<text x="201.0" y="21.84" font-size="7.9" font-weight="bold" text-anchor="end" fill="#000" stroke="#000" stroke-width="0.22">40</text>
<text x="188.4" y="70.65" font-size="9.0" font-weight="bold" text-anchor="middle" fill="#000" stroke="#000" stroke-width="0.22" transform="rotate(-90 188.4 70.65)">% ID/g</text>
<line x1="205.55" y1="119.30" x2="354.30" y2="119.30" stroke="#111" stroke-width="1.5"/>
<line x1="222.10" y1="119.30" x2="222.10" y2="124.00" stroke="#111" stroke-width="1.3"/>
<text x="224.1" y="130.2" font-size="8.4" font-weight="bold" text-anchor="end" fill="#000" stroke="#000" stroke-width="0.22" transform="rotate(-45 224.1 130.2)">Tumor</text>
<line x1="250.95" y1="119.30" x2="250.95" y2="124.00" stroke="#111" stroke-width="1.3"/>
<text x="252.95" y="130.2" font-size="8.4" font-weight="bold" text-anchor="end" fill="#000" stroke="#000" stroke-width="0.22" transform="rotate(-45 252.95 130.2)">Kidneys</text>
<line x1="279.80" y1="119.30" x2="279.80" y2="124.00" stroke="#111" stroke-width="1.3"/>
<text x="281.8" y="130.2" font-size="8.4" font-weight="bold" text-anchor="end" fill="#000" stroke="#000" stroke-width="0.22" transform="rotate(-45 281.8 130.2)">Liver</text>
<line x1="308.65" y1="119.30" x2="308.65" y2="124.00" stroke="#111" stroke-width="1.3"/>
<text x="310.65" y="130.2" font-size="8.4" font-weight="bold" text-anchor="end" fill="#000" stroke="#000" stroke-width="0.22" transform="rotate(-45 310.65 130.2)">Blood</text>
<line x1="337.50" y1="119.30" x2="337.50" y2="124.00" stroke="#111" stroke-width="1.3"/>
<text x="339.5" y="130.2" font-size="8.4" font-weight="bold" text-anchor="end" fill="#000" stroke="#000" stroke-width="0.22" transform="rotate(-45 339.5 130.2)">Muscle</text>
<rect x="253.80" y="22.70" width="16.00" height="3.80" fill="#4a9e2c"/>
<text x="279.2" y="23.58" font-size="5.12" font-weight="normal" text-anchor="start" fill="#000" stroke="#000" stroke-width="0.16">89</text>
<text x="283.6" y="27.1" font-size="8.0" font-weight="normal" text-anchor="start" fill="#000" stroke="#000" stroke-width="0.16">Zr-DFO-SC16-SS</text>
<rect x="253.80" y="33.60" width="16.00" height="3.80" fill="#b9e08a"/>
<text x="279.2" y="34.48" font-size="5.12" font-weight="normal" text-anchor="start" fill="#000" stroke="#000" stroke-width="0.16">89</text>
<text x="283.6" y="38.0" font-size="8.0" font-weight="normal" text-anchor="start" fill="#000" stroke="#000" stroke-width="0.16">Zr-DFO-SC16-NS</text>
<path d="M245.1 100.5 V94.9 H256.9 V109" fill="none" stroke="#111" stroke-width="1.2"/>
<text x="251.0" y="95.80000000000001" font-size="11" font-weight="bold" text-anchor="middle" fill="#000" stroke="#000" stroke-width="0.22">**</text>
<text x="185" y="170.9" font-size="12" font-weight="bold" text-anchor="start" fill="#000" stroke="#000" stroke-width="0.45">E</text>
<text x="280.2" y="176.5" font-size="8.75" font-weight="bold" text-anchor="middle" fill="#000" stroke="#000" stroke-width="0.22">H69 Xenografts</text>
<rect x="211.30" y="240.26" width="9.60" height="45.14" fill="#2272b8"/>
<line x1="216.10" y1="227.62" x2="216.10" y2="252.91" stroke="#1c2e44" stroke-width="1.15"/>
<line x1="213.40" y1="227.62" x2="218.80" y2="227.62" stroke="#1c2e44" stroke-width="1.15"/>
<line x1="213.40" y1="252.91" x2="218.80" y2="252.91" stroke="#1c2e44" stroke-width="1.15"/>
<rect x="223.40" y="252.66" width="9.60" height="32.74" fill="#aacbec"/>
<line x1="228.20" y1="244.48" x2="228.20" y2="260.85" stroke="#36424f" stroke-width="1.15"/>
<line x1="225.50" y1="244.48" x2="230.90" y2="244.48" stroke="#36424f" stroke-width="1.15"/>
<line x1="225.50" y1="260.85" x2="230.90" y2="260.85" stroke="#36424f" stroke-width="1.15"/>
<rect x="240.15" y="270.27" width="9.60" height="15.13" fill="#2272b8"/>
<line x1="244.95" y1="267.05" x2="244.95" y2="273.50" stroke="#1c2e44" stroke-width="1.15"/>
<line x1="242.25" y1="267.05" x2="247.65" y2="267.05" stroke="#1c2e44" stroke-width="1.15"/>
<line x1="242.25" y1="273.50" x2="247.65" y2="273.50" stroke="#1c2e44" stroke-width="1.15"/>
<rect x="252.25" y="276.97" width="9.60" height="8.43" fill="#aacbec"/>
<line x1="257.05" y1="276.35" x2="257.05" y2="277.59" stroke="#36424f" stroke-width="1.15"/>
<line x1="254.35" y1="276.35" x2="259.75" y2="276.35" stroke="#36424f" stroke-width="1.15"/>
<line x1="254.35" y1="277.59" x2="259.75" y2="277.59" stroke="#36424f" stroke-width="1.15"/>
<rect x="269.00" y="276.97" width="9.60" height="8.43" fill="#2272b8"/>
<line x1="273.80" y1="273.99" x2="273.80" y2="279.94" stroke="#1c2e44" stroke-width="1.15"/>
<line x1="271.10" y1="273.99" x2="276.50" y2="273.99" stroke="#1c2e44" stroke-width="1.15"/>
<line x1="271.10" y1="279.94" x2="276.50" y2="279.94" stroke="#1c2e44" stroke-width="1.15"/>
<rect x="281.10" y="276.47" width="9.60" height="8.93" fill="#aacbec"/>
<line x1="285.90" y1="275.48" x2="285.90" y2="277.46" stroke="#36424f" stroke-width="1.15"/>
<line x1="283.20" y1="275.48" x2="288.60" y2="275.48" stroke="#36424f" stroke-width="1.15"/>
<line x1="283.20" y1="277.46" x2="288.60" y2="277.46" stroke="#36424f" stroke-width="1.15"/>
<rect x="297.85" y="267.54" width="9.60" height="17.86" fill="#2272b8"/>
<line x1="302.65" y1="260.60" x2="302.65" y2="274.49" stroke="#1c2e44" stroke-width="1.15"/>
<line x1="299.95" y1="260.60" x2="305.35" y2="260.60" stroke="#1c2e44" stroke-width="1.15"/>
<line x1="299.95" y1="274.49" x2="305.35" y2="274.49" stroke="#1c2e44" stroke-width="1.15"/>
<rect x="309.95" y="267.79" width="9.60" height="17.61" fill="#aacbec"/>
<line x1="314.75" y1="266.80" x2="314.75" y2="268.78" stroke="#36424f" stroke-width="1.15"/>
<line x1="312.05" y1="266.80" x2="317.45" y2="266.80" stroke="#36424f" stroke-width="1.15"/>
<line x1="312.05" y1="268.78" x2="317.45" y2="268.78" stroke="#36424f" stroke-width="1.15"/>
<rect x="326.70" y="284.16" width="9.60" height="1.24" fill="#2272b8"/>
<line x1="331.50" y1="283.29" x2="331.50" y2="285.03" stroke="#1c2e44" stroke-width="1.15"/>
<line x1="328.80" y1="283.29" x2="334.20" y2="283.29" stroke="#1c2e44" stroke-width="1.15"/>
<line x1="328.80" y1="285.03" x2="334.20" y2="285.03" stroke="#1c2e44" stroke-width="1.15"/>
<rect x="338.80" y="284.41" width="9.60" height="0.99" fill="#aacbec"/>
<line x1="343.60" y1="283.91" x2="343.60" y2="284.90" stroke="#36424f" stroke-width="1.15"/>
<line x1="340.90" y1="283.91" x2="346.30" y2="283.91" stroke="#36424f" stroke-width="1.15"/>
<line x1="340.90" y1="284.90" x2="346.30" y2="284.90" stroke="#36424f" stroke-width="1.15"/>
<line x1="206.00" y1="185.50" x2="206.00" y2="286.15" stroke="#111" stroke-width="1.5"/>
<line x1="201.50" y1="285.40" x2="206.00" y2="285.40" stroke="#111" stroke-width="1.3"/>
<text x="200.7" y="288.24" font-size="7.9" font-weight="bold" text-anchor="end" fill="#000" stroke="#000" stroke-width="0.22">0</text>
<line x1="201.50" y1="260.60" x2="206.00" y2="260.60" stroke="#111" stroke-width="1.3"/>
<text x="200.7" y="263.44" font-size="7.9" font-weight="bold" text-anchor="end" fill="#000" stroke="#000" stroke-width="0.22">10</text>
<line x1="201.50" y1="235.80" x2="206.00" y2="235.80" stroke="#111" stroke-width="1.3"/>
<text x="200.7" y="238.64" font-size="7.9" font-weight="bold" text-anchor="end" fill="#000" stroke="#000" stroke-width="0.22">20</text>
<line x1="201.50" y1="211.00" x2="206.00" y2="211.00" stroke="#111" stroke-width="1.3"/>
<text x="200.7" y="213.84" font-size="7.9" font-weight="bold" text-anchor="end" fill="#000" stroke="#000" stroke-width="0.22">30</text>
<line x1="201.50" y1="186.20" x2="206.00" y2="186.20" stroke="#111" stroke-width="1.3"/>
<text x="200.7" y="189.04" font-size="7.9" font-weight="bold" text-anchor="end" fill="#000" stroke="#000" stroke-width="0.22">40</text>
<text x="188.4" y="237.29999999999998" font-size="9.0" font-weight="bold" text-anchor="middle" fill="#000" stroke="#000" stroke-width="0.22" transform="rotate(-90 188.4 237.29999999999998)">% ID/g</text>
<line x1="205.25" y1="285.40" x2="354.30" y2="285.40" stroke="#111" stroke-width="1.5"/>
<line x1="222.10" y1="285.40" x2="222.10" y2="290.10" stroke="#111" stroke-width="1.3"/>
<text x="224.1" y="296.3" font-size="8.4" font-weight="bold" text-anchor="end" fill="#000" stroke="#000" stroke-width="0.22" transform="rotate(-45 224.1 296.3)">Tumor</text>
<line x1="250.95" y1="285.40" x2="250.95" y2="290.10" stroke="#111" stroke-width="1.3"/>
<text x="252.95" y="296.3" font-size="8.4" font-weight="bold" text-anchor="end" fill="#000" stroke="#000" stroke-width="0.22" transform="rotate(-45 252.95 296.3)">Kidneys</text>
<line x1="279.80" y1="285.40" x2="279.80" y2="290.10" stroke="#111" stroke-width="1.3"/>
<text x="281.8" y="296.3" font-size="8.4" font-weight="bold" text-anchor="end" fill="#000" stroke="#000" stroke-width="0.22" transform="rotate(-45 281.8 296.3)">Liver</text>
<line x1="308.65" y1="285.40" x2="308.65" y2="290.10" stroke="#111" stroke-width="1.3"/>
<text x="310.65" y="296.3" font-size="8.4" font-weight="bold" text-anchor="end" fill="#000" stroke="#000" stroke-width="0.22" transform="rotate(-45 310.65 296.3)">Blood</text>
<line x1="337.50" y1="285.40" x2="337.50" y2="290.10" stroke="#111" stroke-width="1.3"/>
<text x="339.5" y="296.3" font-size="8.4" font-weight="bold" text-anchor="end" fill="#000" stroke="#000" stroke-width="0.22" transform="rotate(-45 339.5 296.3)">Muscle</text>
<rect x="253.80" y="191.40" width="16.00" height="3.80" fill="#2272b8"/>
<text x="279.2" y="192.68" font-size="5.12" font-weight="normal" text-anchor="start" fill="#000" stroke="#000" stroke-width="0.16">89</text>
<text x="283.6" y="196.2" font-size="8.0" font-weight="normal" text-anchor="start" fill="#000" stroke="#000" stroke-width="0.16">Zr-DFO-SC16-SS</text>
<rect x="253.80" y="201.40" width="16.00" height="3.80" fill="#aacbec"/>
<text x="279.2" y="202.68" font-size="5.12" font-weight="normal" text-anchor="start" fill="#000" stroke="#000" stroke-width="0.16">89</text>
<text x="283.6" y="206.2" font-size="8.0" font-weight="normal" text-anchor="start" fill="#000" stroke="#000" stroke-width="0.16">Zr-DFO-SC16-NS</text>
<path d="M243.9 264.0 V259.6 H257.1 V275.0" fill="none" stroke="#111" stroke-width="1.2"/>
<text x="250.5" y="260.5" font-size="11" font-weight="bold" text-anchor="middle" fill="#000" stroke="#000" stroke-width="0.22">***</text>
<text x="360" y="9.9" font-size="12" font-weight="bold" text-anchor="start" fill="#000" stroke="#000" stroke-width="0.45">C</text>
<text x="451.3" y="10.1" font-size="8.14" font-weight="bold" text-anchor="middle" fill="#000" stroke="#000" stroke-width="0.22">H82 Xenografts</text>
<defs><pattern id="hs1" x="0" y="0.2" width="4" height="2.36" patternUnits="userSpaceOnUse"><rect width="4" height="2.36" fill="#44b238"/><rect y="0" width="4" height="1.18" fill="#0c5412"/></pattern><pattern id="hs2" x="0" y="0.2" width="4" height="2.36" patternUnits="userSpaceOnUse"><rect width="4" height="2.36" fill="#edf392"/><rect y="0" width="4" height="1.18" fill="#8a9620"/></pattern></defs>
<rect x="387.40" y="113.31" width="11.40" height="4.69" fill="url(#hs1)"/>
<line x1="393.10" y1="111.20" x2="393.10" y2="115.42" stroke="#12300f" stroke-width="1.15"/>
<line x1="389.90" y1="111.20" x2="396.30" y2="111.20" stroke="#12300f" stroke-width="1.1"/>
<line x1="389.90" y1="115.42" x2="396.30" y2="115.42" stroke="#12300f" stroke-width="1.1"/>
<rect x="401.80" y="112.72" width="11.40" height="5.28" fill="url(#hs2)"/>
<line x1="407.50" y1="109.56" x2="407.50" y2="115.89" stroke="#2f3614" stroke-width="1.15"/>
<line x1="404.30" y1="109.56" x2="410.70" y2="109.56" stroke="#2f3614" stroke-width="1.1"/>
<line x1="404.30" y1="115.89" x2="410.70" y2="115.89" stroke="#2f3614" stroke-width="1.1"/>
<rect x="421.20" y="105.92" width="11.40" height="12.08" fill="url(#hs1)"/>
<line x1="426.90" y1="102.17" x2="426.90" y2="109.68" stroke="#12300f" stroke-width="1.15"/>
<line x1="423.70" y1="102.17" x2="430.10" y2="102.17" stroke="#12300f" stroke-width="1.1"/>
<line x1="423.70" y1="109.68" x2="430.10" y2="109.68" stroke="#12300f" stroke-width="1.1"/>
<rect x="435.60" y="113.31" width="11.40" height="4.69" fill="url(#hs2)"/>
<line x1="441.30" y1="110.03" x2="441.30" y2="116.59" stroke="#2f3614" stroke-width="1.15"/>
<line x1="438.10" y1="110.03" x2="444.50" y2="110.03" stroke="#2f3614" stroke-width="1.1"/>
<line x1="438.10" y1="116.59" x2="444.50" y2="116.59" stroke="#2f3614" stroke-width="1.1"/>
<rect x="455.00" y="115.19" width="11.40" height="2.81" fill="url(#hs1)"/>
<line x1="460.70" y1="113.31" x2="460.70" y2="117.06" stroke="#12300f" stroke-width="1.15"/>
<line x1="457.50" y1="113.31" x2="463.90" y2="113.31" stroke="#12300f" stroke-width="1.1"/>
<line x1="457.50" y1="117.06" x2="463.90" y2="117.06" stroke="#12300f" stroke-width="1.1"/>
<rect x="469.40" y="115.66" width="11.40" height="2.34" fill="url(#hs2)"/>
<line x1="475.10" y1="113.90" x2="475.10" y2="117.41" stroke="#2f3614" stroke-width="1.15"/>
<line x1="471.90" y1="113.90" x2="478.30" y2="113.90" stroke="#2f3614" stroke-width="1.1"/>
<line x1="471.90" y1="117.41" x2="478.30" y2="117.41" stroke="#2f3614" stroke-width="1.1"/>
<rect x="488.80" y="61.72" width="11.40" height="56.28" fill="url(#hs1)"/>
<line x1="494.50" y1="44.13" x2="494.50" y2="79.31" stroke="#12300f" stroke-width="1.15"/>
<line x1="491.30" y1="44.13" x2="497.70" y2="44.13" stroke="#12300f" stroke-width="1.1"/>
<line x1="491.30" y1="79.31" x2="497.70" y2="79.31" stroke="#12300f" stroke-width="1.1"/>
<rect x="503.20" y="76.96" width="11.40" height="41.04" fill="url(#hs2)"/>
<line x1="508.90" y1="66.41" x2="508.90" y2="87.52" stroke="#2f3614" stroke-width="1.15"/>
<line x1="505.70" y1="66.41" x2="512.10" y2="66.41" stroke="#2f3614" stroke-width="1.1"/>
<line x1="505.70" y1="87.52" x2="512.10" y2="87.52" stroke="#2f3614" stroke-width="1.1"/>
<line x1="381.90" y1="23.50" x2="381.90" y2="118.75" stroke="#111" stroke-width="1.5"/>
<line x1="377.80" y1="118.00" x2="381.90" y2="118.00" stroke="#111" stroke-width="1.3"/>
<text x="377.0" y="120.66" font-size="7.4" font-weight="bold" text-anchor="end" fill="#000" stroke="#000" stroke-width="0.22">0</text>
<line x1="377.80" y1="94.55" x2="381.90" y2="94.55" stroke="#111" stroke-width="1.3"/>
<text x="377.0" y="97.21" font-size="7.4" font-weight="bold" text-anchor="end" fill="#000" stroke="#000" stroke-width="0.22">20</text>
<line x1="377.80" y1="71.10" x2="381.90" y2="71.10" stroke="#111" stroke-width="1.3"/>
<text x="377.0" y="73.76" font-size="7.4" font-weight="bold" text-anchor="end" fill="#000" stroke="#000" stroke-width="0.22">40</text>
<line x1="377.80" y1="47.65" x2="381.90" y2="47.65" stroke="#111" stroke-width="1.3"/>
<text x="377.0" y="50.31" font-size="7.4" font-weight="bold" text-anchor="end" fill="#000" stroke="#000" stroke-width="0.22">60</text>
<line x1="377.80" y1="24.20" x2="381.90" y2="24.20" stroke="#111" stroke-width="1.3"/>
<text x="377.0" y="26.86" font-size="7.4" font-weight="bold" text-anchor="end" fill="#000" stroke="#000" stroke-width="0.22">80</text>
<text x="363.7" y="71.2" font-size="8.5" font-weight="bold" text-anchor="middle" fill="#000" stroke="#000" stroke-width="0.22" transform="rotate(-90 363.7 71.2)">Tumor/Tissue Ratio</text>
<line x1="381.15" y1="118.00" x2="520.00" y2="118.00" stroke="#111" stroke-width="1.5"/>
<line x1="399.90" y1="118.00" x2="399.90" y2="122.70" stroke="#111" stroke-width="1.3"/>
<text x="402.5" y="127.2" font-size="8.0" font-weight="bold" text-anchor="end" fill="#000" stroke="#000" stroke-width="0.22" transform="rotate(-45 402.5 127.2)">Tum./Kid.</text>
<line x1="433.70" y1="118.00" x2="433.70" y2="122.70" stroke="#111" stroke-width="1.3"/>
<text x="436.3" y="127.2" font-size="8.0" font-weight="bold" text-anchor="end" fill="#000" stroke="#000" stroke-width="0.22" transform="rotate(-45 436.3 127.2)">Tum./Liv.</text>
<line x1="467.50" y1="118.00" x2="467.50" y2="122.70" stroke="#111" stroke-width="1.3"/>
<text x="470.1" y="127.2" font-size="8.0" font-weight="bold" text-anchor="end" fill="#000" stroke="#000" stroke-width="0.22" transform="rotate(-45 470.1 127.2)">Tum./Bl.</text>
<line x1="501.30" y1="118.00" x2="501.30" y2="122.70" stroke="#111" stroke-width="1.3"/>
<text x="503.9" y="127.2" font-size="8.0" font-weight="bold" text-anchor="end" fill="#000" stroke="#000" stroke-width="0.22" transform="rotate(-45 503.9 127.2)">Tum./Mus.</text>
<rect x="394.70" y="25.90" width="14.70" height="3.90" fill="#1b5e1d"/>
<rect x="394.70" y="27.50" width="14.70" height="0.70" fill="#2f8a2a"/>
<rect x="394.70" y="35.80" width="14.70" height="3.90" fill="#e9ee96"/>
<rect x="394.70" y="35.80" width="14.70" height="1.15" fill="#8f9a2c"/>
<rect x="394.70" y="38.55" width="14.70" height="1.15" fill="#8f9a2c"/>
<text x="418.3" y="27.77" font-size="4.7" font-weight="normal" text-anchor="start" fill="#000" stroke="#000" stroke-width="0.16">89</text>
<text x="423.7" y="31.0" font-size="7.35" font-weight="normal" text-anchor="start" fill="#000" stroke="#000" stroke-width="0.16">Zr-DFO-SC16-SS</text>
<text x="418.3" y="37.77" font-size="4.7" font-weight="normal" text-anchor="start" fill="#000" stroke="#000" stroke-width="0.16">89</text>
<text x="423.7" y="41.0" font-size="7.35" font-weight="normal" text-anchor="start" fill="#000" stroke="#000" stroke-width="0.16">Zr-DFO-SC16-NS</text>
<path d="M426.6 97.7 V94.1 H441.4 V105.8" fill="none" stroke="#111" stroke-width="1.2"/>
<text x="434" y="95.2" font-size="11" font-weight="bold" text-anchor="middle" fill="#000" stroke="#000" stroke-width="0.22">*</text>
<text x="360" y="170.8" font-size="12" font-weight="bold" text-anchor="start" fill="#000" stroke="#000" stroke-width="0.45">F</text>
<text x="449.3" y="175.9" font-size="8.3" font-weight="bold" text-anchor="middle" fill="#000" stroke="#000" stroke-width="0.22">Comparative Tumor Uptake</text>
<rect x="381.90" y="216.24" width="5.00" height="68.16" fill="#ee4a25"/>
<line x1="384.40" y1="200.65" x2="384.40" y2="231.84" stroke="#5c1a12" stroke-width="1.1"/>
<line x1="382.50" y1="200.65" x2="386.30" y2="200.65" stroke="#5c1a12" stroke-width="1.0"/>
<line x1="382.50" y1="231.84" x2="386.30" y2="231.84" stroke="#5c1a12" stroke-width="1.0"/>
<rect x="388.25" y="244.16" width="5.00" height="40.24" fill="#4aa637"/>
<line x1="390.75" y1="229.57" x2="390.75" y2="258.75" stroke="#1c4216" stroke-width="1.1"/>
<line x1="388.85" y1="229.57" x2="392.65" y2="229.57" stroke="#1c4216" stroke-width="1.0"/>
<line x1="388.85" y1="258.75" x2="392.65" y2="258.75" stroke="#1c4216" stroke-width="1.0"/>
<rect x="394.60" y="273.33" width="5.00" height="11.07" fill="#2a7cc9"/>
<line x1="397.10" y1="271.57" x2="397.10" y2="275.09" stroke="#12325a" stroke-width="1.1"/>
<line x1="395.20" y1="271.57" x2="399.00" y2="271.57" stroke="#12325a" stroke-width="1.0"/>
<line x1="395.20" y1="275.09" x2="399.00" y2="275.09" stroke="#12325a" stroke-width="1.0"/>
<rect x="400.95" y="269.31" width="5.00" height="15.09" fill="#b9bbc8"/>
<line x1="403.45" y1="265.29" x2="403.45" y2="273.33" stroke="#55565f" stroke-width="1.1"/>
<line x1="401.55" y1="265.29" x2="405.35" y2="265.29" stroke="#55565f" stroke-width="1.0"/>
<line x1="401.55" y1="273.33" x2="405.35" y2="273.33" stroke="#55565f" stroke-width="1.0"/>
<rect x="409.45" y="263.02" width="5.00" height="21.38" fill="#ee4a25"/>
<line x1="411.95" y1="257.49" x2="411.95" y2="268.56" stroke="#5c1a12" stroke-width="1.1"/>
<line x1="410.05" y1="257.49" x2="413.85" y2="257.49" stroke="#5c1a12" stroke-width="1.0"/>
<line x1="410.05" y1="268.56" x2="413.85" y2="268.56" stroke="#5c1a12" stroke-width="1.0"/>
<rect x="415.80" y="266.29" width="5.00" height="18.11" fill="#4aa637"/>
<line x1="418.30" y1="259.25" x2="418.30" y2="273.33" stroke="#1c4216" stroke-width="1.1"/>
<line x1="416.40" y1="259.25" x2="420.20" y2="259.25" stroke="#1c4216" stroke-width="1.0"/>
<line x1="416.40" y1="273.33" x2="420.20" y2="273.33" stroke="#1c4216" stroke-width="1.0"/>
<rect x="422.15" y="259.25" width="5.00" height="25.15" fill="#2a7cc9"/>
<line x1="424.65" y1="255.98" x2="424.65" y2="262.52" stroke="#12325a" stroke-width="1.1"/>
<line x1="422.75" y1="255.98" x2="426.55" y2="255.98" stroke="#12325a" stroke-width="1.0"/>
<line x1="422.75" y1="262.52" x2="426.55" y2="262.52" stroke="#12325a" stroke-width="1.0"/>
<rect x="428.50" y="241.64" width="5.00" height="42.75" fill="#b9bbc8"/>
<line x1="431.00" y1="236.11" x2="431.00" y2="247.18" stroke="#55565f" stroke-width="1.1"/>
<line x1="429.10" y1="236.11" x2="432.90" y2="236.11" stroke="#55565f" stroke-width="1.0"/>
<line x1="429.10" y1="247.18" x2="432.90" y2="247.18" stroke="#55565f" stroke-width="1.0"/>
<rect x="437.00" y="277.86" width="5.00" height="6.54" fill="#ee4a25"/>
<line x1="439.50" y1="276.10" x2="439.50" y2="279.62" stroke="#5c1a12" stroke-width="1.1"/>
<line x1="437.60" y1="276.10" x2="441.40" y2="276.10" stroke="#5c1a12" stroke-width="1.0"/>
<line x1="437.60" y1="279.62" x2="441.40" y2="279.62" stroke="#5c1a12" stroke-width="1.0"/>
<rect x="443.35" y="275.85" width="5.00" height="8.55" fill="#4aa637"/>
<line x1="445.85" y1="272.83" x2="445.85" y2="278.87" stroke="#1c4216" stroke-width="1.1"/>
<line x1="443.95" y1="272.83" x2="447.75" y2="272.83" stroke="#1c4216" stroke-width="1.0"/>
<line x1="443.95" y1="278.87" x2="447.75" y2="278.87" stroke="#1c4216" stroke-width="1.0"/>
<rect x="449.70" y="275.35" width="5.00" height="9.05" fill="#2a7cc9"/>
<line x1="452.20" y1="273.08" x2="452.20" y2="277.61" stroke="#12325a" stroke-width="1.1"/>
<line x1="450.30" y1="273.08" x2="454.10" y2="273.08" stroke="#12325a" stroke-width="1.0"/>
<line x1="450.30" y1="277.61" x2="454.10" y2="277.61" stroke="#12325a" stroke-width="1.0"/>
<rect x="456.05" y="271.82" width="5.00" height="12.57" fill="#b9bbc8"/>
<line x1="458.55" y1="269.31" x2="458.55" y2="274.34" stroke="#55565f" stroke-width="1.1"/>
<line x1="456.65" y1="269.31" x2="460.45" y2="269.31" stroke="#55565f" stroke-width="1.0"/>
<line x1="456.65" y1="274.34" x2="460.45" y2="274.34" stroke="#55565f" stroke-width="1.0"/>
<rect x="464.55" y="269.31" width="5.00" height="15.09" fill="#ee4a25"/>
<line x1="467.05" y1="266.04" x2="467.05" y2="272.58" stroke="#5c1a12" stroke-width="1.1"/>
<line x1="465.15" y1="266.04" x2="468.95" y2="266.04" stroke="#5c1a12" stroke-width="1.0"/>
<line x1="465.15" y1="272.58" x2="468.95" y2="272.58" stroke="#5c1a12" stroke-width="1.0"/>
<rect x="470.90" y="268.81" width="5.00" height="15.59" fill="#4aa637"/>
<line x1="473.40" y1="265.29" x2="473.40" y2="272.33" stroke="#1c4216" stroke-width="1.1"/>
<line x1="471.50" y1="265.29" x2="475.30" y2="265.29" stroke="#1c4216" stroke-width="1.0"/>
<line x1="471.50" y1="272.33" x2="475.30" y2="272.33" stroke="#1c4216" stroke-width="1.0"/>
<rect x="477.25" y="260.76" width="5.00" height="23.64" fill="#2a7cc9"/>
<line x1="479.75" y1="256.23" x2="479.75" y2="265.29" stroke="#12325a" stroke-width="1.1"/>
<line x1="477.85" y1="256.23" x2="481.65" y2="256.23" stroke="#12325a" stroke-width="1.0"/>
<line x1="477.85" y1="265.29" x2="481.65" y2="265.29" stroke="#12325a" stroke-width="1.0"/>
<rect x="483.60" y="250.45" width="5.00" height="33.95" fill="#b9bbc8"/>
<line x1="486.10" y1="242.90" x2="486.10" y2="257.99" stroke="#55565f" stroke-width="1.1"/>
<line x1="484.20" y1="242.90" x2="488.00" y2="242.90" stroke="#55565f" stroke-width="1.0"/>
<line x1="484.20" y1="257.99" x2="488.00" y2="257.99" stroke="#55565f" stroke-width="1.0"/>
<rect x="492.10" y="283.39" width="5.00" height="1.01" fill="#ee4a25"/>
<line x1="494.60" y1="283.02" x2="494.60" y2="283.77" stroke="#222" stroke-width="1.1"/>
<line x1="492.70" y1="283.02" x2="496.50" y2="283.02" stroke="#222" stroke-width="1.0"/>
<line x1="492.70" y1="283.77" x2="496.50" y2="283.77" stroke="#222" stroke-width="1.0"/>
<rect x="498.45" y="283.14" width="5.00" height="1.26" fill="#4aa637"/>
<line x1="500.95" y1="282.39" x2="500.95" y2="283.90" stroke="#222" stroke-width="1.1"/>
<line x1="499.05" y1="282.39" x2="502.85" y2="282.39" stroke="#222" stroke-width="1.0"/>
<line x1="499.05" y1="283.90" x2="502.85" y2="283.90" stroke="#222" stroke-width="1.0"/>
<rect x="504.80" y="283.14" width="5.00" height="1.26" fill="#2a7cc9"/>
<line x1="507.30" y1="282.64" x2="507.30" y2="283.65" stroke="#222" stroke-width="1.1"/>
<line x1="505.40" y1="282.64" x2="509.20" y2="282.64" stroke="#222" stroke-width="1.0"/>
<line x1="505.40" y1="283.65" x2="509.20" y2="283.65" stroke="#222" stroke-width="1.0"/>
<rect x="511.15" y="280.38" width="5.00" height="4.02" fill="#b9bbc8"/>
<line x1="513.65" y1="279.62" x2="513.65" y2="281.13" stroke="#55565f" stroke-width="1.1"/>
<line x1="511.75" y1="279.62" x2="515.55" y2="279.62" stroke="#55565f" stroke-width="1.0"/>
<line x1="511.75" y1="281.13" x2="515.55" y2="281.13" stroke="#55565f" stroke-width="1.0"/>
<line x1="379.30" y1="183.10" x2="379.30" y2="285.15" stroke="#111" stroke-width="1.5"/>
<line x1="374.80" y1="284.40" x2="379.30" y2="284.40" stroke="#111" stroke-width="1.3"/>
<text x="374.0" y="287.14" font-size="7.6" font-weight="bold" text-anchor="end" fill="#000" stroke="#000" stroke-width="0.22">0</text>
<line x1="374.80" y1="259.25" x2="379.30" y2="259.25" stroke="#111" stroke-width="1.3"/>
<text x="374.0" y="261.99" font-size="7.6" font-weight="bold" text-anchor="end" fill="#000" stroke="#000" stroke-width="0.22">10</text>
<line x1="374.80" y1="234.10" x2="379.30" y2="234.10" stroke="#111" stroke-width="1.3"/>
<text x="374.0" y="236.84" font-size="7.6" font-weight="bold" text-anchor="end" fill="#000" stroke="#000" stroke-width="0.22">20</text>
<line x1="374.80" y1="208.95" x2="379.30" y2="208.95" stroke="#111" stroke-width="1.3"/>
<text x="374.0" y="211.69" font-size="7.6" font-weight="bold" text-anchor="end" fill="#000" stroke="#000" stroke-width="0.22">30</text>
<line x1="374.80" y1="183.80" x2="379.30" y2="183.80" stroke="#111" stroke-width="1.3"/>
<text x="374.0" y="186.54" font-size="7.6" font-weight="bold" text-anchor="end" fill="#000" stroke="#000" stroke-width="0.22">40</text>
<text x="363.6" y="234.6" font-size="8.9" font-weight="bold" text-anchor="middle" fill="#000" stroke="#000" stroke-width="0.22" transform="rotate(-90 363.6 234.6)">% ID/g</text>
<line x1="378.55" y1="284.40" x2="518.50" y2="284.40" stroke="#111" stroke-width="1.5"/>
<line x1="393.80" y1="284.40" x2="393.80" y2="288.80" stroke="#111" stroke-width="1.3"/>
<text x="396.1" y="296.2" font-size="8.0" font-weight="bold" text-anchor="end" fill="#000" stroke="#000" stroke-width="0.22" transform="rotate(-45 396.1 296.2)">Tumor</text>
<line x1="421.35" y1="284.40" x2="421.35" y2="288.80" stroke="#111" stroke-width="1.3"/>
<text x="423.65" y="296.2" font-size="8.0" font-weight="bold" text-anchor="end" fill="#000" stroke="#000" stroke-width="0.22" transform="rotate(-45 423.65 296.2)">Blood</text>
<line x1="448.90" y1="284.40" x2="448.90" y2="288.80" stroke="#111" stroke-width="1.3"/>
<text x="451.2" y="296.2" font-size="8.0" font-weight="bold" text-anchor="end" fill="#000" stroke="#000" stroke-width="0.22" transform="rotate(-45 451.2 296.2)">Liver</text>
<line x1="476.45" y1="284.40" x2="476.45" y2="288.80" stroke="#111" stroke-width="1.3"/>
<text x="478.75" y="296.2" font-size="8.0" font-weight="bold" text-anchor="end" fill="#000" stroke="#000" stroke-width="0.22" transform="rotate(-45 478.75 296.2)">Kidneys</text>
<line x1="504.00" y1="284.40" x2="504.00" y2="288.80" stroke="#111" stroke-width="1.3"/>
<text x="506.3" y="296.2" font-size="8.0" font-weight="bold" text-anchor="end" fill="#000" stroke="#000" stroke-width="0.22" transform="rotate(-45 506.3 296.2)">Muscle</text>
<path d="M383.9 194.4 V190.2 H390.2 V229" fill="none" stroke="#222" stroke-width="1.0"/>
<path d="M386.2 188.6 V186.6 Q386.2 185.9 387 185.9 H389.2" fill="none" stroke="#3a3a3a" stroke-width="0.95"/>
<path d="M393.4 185.9 H396.5 V187.2" fill="none" stroke="#3a3a3a" stroke-width="0.95"/>
<path d="M401.6 185.9 H403.1 V188.4" fill="none" stroke="#3a3a3a" stroke-width="0.95"/>
<line x1="396.50" y1="192.40" x2="396.50" y2="196.40" stroke="#3a3a3a" stroke-width="0.95"/>
<line x1="403.10" y1="192.40" x2="403.10" y2="196.40" stroke="#3a3a3a" stroke-width="0.95"/>
<line x1="396.50" y1="201.00" x2="396.50" y2="205.00" stroke="#3a3a3a" stroke-width="0.95"/>
<line x1="403.10" y1="201.00" x2="403.10" y2="205.00" stroke="#3a3a3a" stroke-width="0.95"/>
<line x1="396.50" y1="209.60" x2="396.50" y2="213.60" stroke="#3a3a3a" stroke-width="0.95"/>
<line x1="403.10" y1="209.60" x2="403.10" y2="213.60" stroke="#3a3a3a" stroke-width="0.95"/>
<line x1="396.50" y1="218.20" x2="396.50" y2="222.20" stroke="#3a3a3a" stroke-width="0.95"/>
<line x1="403.10" y1="218.20" x2="403.10" y2="222.20" stroke="#3a3a3a" stroke-width="0.95"/>
<line x1="396.50" y1="226.80" x2="396.50" y2="230.80" stroke="#3a3a3a" stroke-width="0.95"/>
<line x1="403.10" y1="226.80" x2="403.10" y2="230.80" stroke="#3a3a3a" stroke-width="0.95"/>
<line x1="396.50" y1="235.40" x2="396.50" y2="239.40" stroke="#3a3a3a" stroke-width="0.95"/>
<line x1="403.10" y1="235.40" x2="403.10" y2="239.40" stroke="#3a3a3a" stroke-width="0.95"/>
<line x1="396.50" y1="244.00" x2="396.50" y2="248.00" stroke="#3a3a3a" stroke-width="0.95"/>
<line x1="403.10" y1="244.00" x2="403.10" y2="248.00" stroke="#3a3a3a" stroke-width="0.95"/>
<line x1="396.50" y1="252.60" x2="396.50" y2="256.60" stroke="#3a3a3a" stroke-width="0.95"/>
<line x1="403.10" y1="252.60" x2="403.10" y2="256.60" stroke="#3a3a3a" stroke-width="0.95"/>
<line x1="396.50" y1="261.20" x2="396.50" y2="265.20" stroke="#3a3a3a" stroke-width="0.95"/>
<line x1="403.10" y1="261.20" x2="403.10" y2="265.20" stroke="#3a3a3a" stroke-width="0.95"/>
<rect x="410.50" y="185.40" width="15.20" height="3.00" fill="#ee4a25"/>
<text x="434.3" y="190.2" font-size="6.4" font-weight="bold" text-anchor="start" fill="#000" stroke="#000" stroke-width="0.22">H82</text>
<text x="454.9" y="187.38" font-size="4.11" font-weight="bold" text-anchor="start" fill="#000" stroke="#000" stroke-width="0.22">89</text>
<text x="459.5" y="190.2" font-size="6.42" font-weight="bold" text-anchor="start" fill="#000" stroke="#000" stroke-width="0.22">Zr-DFO-SC16-SS</text>
<rect x="410.50" y="195.40" width="15.20" height="3.00" fill="#4aa637"/>
<text x="434.3" y="200.2" font-size="6.3" font-weight="normal" text-anchor="start" fill="#444" stroke="#444" stroke-width="0.16">H69</text>
<text x="454.9" y="197.35" font-size="4.14" font-weight="normal" text-anchor="start" fill="#444" stroke="#444" stroke-width="0.16">89</text>
<text x="459.5" y="200.2" font-size="6.47" font-weight="normal" text-anchor="start" fill="#444" stroke="#444" stroke-width="0.16">Zr-DFO-SC16-SS</text>
<rect x="410.50" y="205.60" width="15.20" height="3.00" fill="#2a7cc9"/>
<text x="434.3" y="210.3" font-size="6.3" font-weight="normal" text-anchor="start" fill="#444" stroke="#444" stroke-width="0.16">A549</text>
<text x="454.9" y="207.45" font-size="4.14" font-weight="normal" text-anchor="start" fill="#444" stroke="#444" stroke-width="0.16">89</text>
<text x="459.5" y="210.3" font-size="6.47" font-weight="normal" text-anchor="start" fill="#444" stroke="#444" stroke-width="0.16">Zr-DFO-SC16-SS</text>
<rect x="410.50" y="215.80" width="15.20" height="3.00" fill="#b9bbc8"/>
<text x="434.3" y="220.5" font-size="6.4" font-weight="bold" text-anchor="start" fill="#000" stroke="#000" stroke-width="0.22">H82</text>
<text x="454.9" y="217.68" font-size="4.11" font-weight="bold" text-anchor="start" fill="#000" stroke="#000" stroke-width="0.22">89</text>
<text x="459.5" y="220.5" font-size="6.42" font-weight="bold" text-anchor="start" fill="#000" stroke="#000" stroke-width="0.22">Zr-DFO-hIgG-SS</text>
</svg>
</body></html>
